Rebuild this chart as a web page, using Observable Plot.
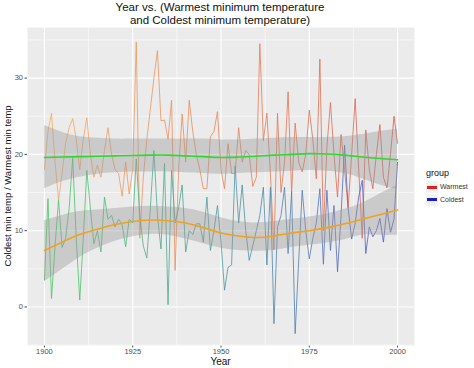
<!DOCTYPE html>
<html><head><meta charset="utf-8">
<script src="https://cdn.jsdelivr.net/npm/d3@7"></script>
<script src="https://cdn.jsdelivr.net/npm/@observablehq/plot@0.6"></script>
<style>
body{margin:0;background:#fff;font-family:"Liberation Sans",Arial,sans-serif;}
#wrap{position:relative;width:474px;height:368px;overflow:hidden;}
#wrap svg{position:absolute;left:0;top:0;}
.t{position:absolute;white-space:nowrap;color:#000;}
</style></head><body><div id="wrap"></div>
<script>
// ---- data ----
const years = d3.range(1900, 2001);
const warmest = [18,23,25.4,19,14,17.5,21.5,23.5,24.7,22,
  18,22,24.8,20,17,18.6,17,20.5,23.5,20,
  18,17.5,14.5,19,14.8,18,34.7,9,17,22,
  26,30,33.6,24.4,24.5,22,27.1,4.8,18,25.3,
  19,27.1,23,20,18,15.5,15.5,22.3,23,25.6,
  18,15.5,21.4,17.5,17.5,23.5,19,20.5,20,15.8,
  17,34.5,21.8,25.4,17.5,7.5,25.4,15,19,28.2,
  15,24.1,19,17.7,20,25.8,22,16.8,32.5,10,
  21,26.8,20,14.4,22.6,18,13,20,27.3,18,
  9,23.2,18,15.5,20,23.9,17,15.6,20,25,21.4];
const coldest = [3.5,14.2,1.1,8,14,7.8,9,13,19.5,9,
  0.9,9,17.9,13,8.3,10,7.2,14.4,11.5,12,
  10.5,11.5,10.8,7.9,11.5,11,19.4,12,8,6.4,
  13,20.5,12,7.6,18.8,0.3,17.9,11,13,16,
  7.2,10,9.5,10.9,10.9,8.5,14.4,7.4,10,13.3,
  8.5,2.2,5.2,5.5,18.5,11,16,10,6.1,8,
  10,12,15.7,5.5,15.7,-2.2,10.5,12,15.7,7,
  15.1,-3.5,6,15.3,10,6.3,9,11,15.5,5.6,
  15.3,7.4,13.3,4.6,12,21.2,13,8.9,11,14.4,
  16.6,7,10.5,9.2,10,11.6,8.5,12.9,9.8,11.5,19];
const smoothYears = [1900,1905,1910,1915,1920,1925,1930,1935,1940,1945,1950,1955,1960,1965,1970,1975,1980,1985,1990,1995,2000];
const warmFit = [19.6,19.65,19.7,19.75,19.8,19.85,19.9,19.9,19.8,19.7,19.6,19.65,19.75,19.9,20.0,20.1,20.05,19.9,19.65,19.45,19.3];
const warmLo  = [15.5,16.4,17.0,17.4,17.6,17.7,17.7,17.7,17.6,17.5,17.4,17.5,17.6,17.7,17.8,17.9,17.8,17.5,16.8,16.0,15.4];
const warmHi  = [23.8,22.9,22.3,22.1,22.0,22.0,22.0,22.0,22.0,22.0,21.9,21.9,22.0,22.1,22.2,22.2,22.2,22.3,22.6,23.0,23.3];
const coldFit = [7.4,8.5,9.5,10.2,10.8,11.2,11.4,11.3,11.0,10.4,9.7,9.3,9.1,9.3,9.7,10.0,10.4,10.9,11.5,12.1,12.7];
const coldLo  = [3.3,4.9,6.5,7.7,8.6,9.2,9.5,9.4,8.9,8.3,7.7,7.4,7.3,7.4,7.8,8.1,8.4,8.8,9.4,9.4,9.4];
const coldHi  = [11.3,12.0,12.5,12.7,12.9,13.1,13.2,13.1,12.9,12.4,11.7,11.2,11.0,11.2,11.5,11.8,12.2,12.8,13.6,14.8,16.0];
const groups = ["Warmest", "Coldest"];
const xTicks = [1900, 1925, 1950, 1975, 2000];
const yTicks = [0, 10, 20, 30];

// ---- styling ----
const warmColor = d3.interpolateLab("#f2ad62", "#d95a4e");
const coldColor = d3.piecewise(d3.interpolateLab, ["#43cc5e", "#4a9aa0", "#4a55c8"]);

const segs = [];
for (let i = 0; i < years.length - 1; i++) {
  const t = (i + 0.5) / (years.length - 1);
  segs.push({x1: years[i], x2: years[i+1], y1: warmest[i], y2: warmest[i+1], c: warmColor(t)});
  segs.push({x1: years[i], x2: years[i+1], y1: coldest[i], y2: coldest[i+1], c: coldColor(t)});
}
const smooth = smoothYears.map((y, i) => ({year: y, wf: warmFit[i], wl: warmLo[i], wh: warmHi[i], cf: coldFit[i], cl: coldLo[i], ch: coldHi[i]}));
const majorX = xTicks, minorX = [1912.5, 1937.5, 1962.5, 1987.5];
const majorY = yTicks, minorY = [-5, 5, 15, 25, 35];

const chart = Plot.plot({
  width: 474, height: 368,
  marginLeft: 27, marginRight: 60, marginTop: 27, marginBottom: 23,
  style: {fontFamily: "'Liberation Sans', Arial, sans-serif", fontSize: "7.5px", color: "#4d4d4d", background: "transparent"},
  x: {domain: [1895.2, 2004.8], ticks: xTicks, tickFormat: d => String(d), tickSize: 2.5, tickPadding: 1, label: null},
  y: {domain: [-5.05, 36.63], ticks: yTicks, tickFormat: d => String(d), tickSize: 2.5, tickPadding: 2, label: null},
  color: {type: "identity"},
  marks: [
    Plot.frame({fill: "#ebebeb", stroke: null}),
    Plot.ruleX(minorX, {stroke: "#fff", strokeWidth: 0.55}),
    Plot.ruleY(minorY, {stroke: "#fff", strokeWidth: 0.55}),
    Plot.ruleX(majorX, {stroke: "#fff", strokeWidth: 1.1}),
    Plot.ruleY(majorY, {stroke: "#fff", strokeWidth: 1.1}),
    Plot.link(segs, {x1: "x1", y1: "y1", x2: "x2", y2: "y2", stroke: "c", strokeWidth: 0.8}),
    Plot.areaY(smooth, {x: "year", y1: "wl", y2: "wh", fill: "#999999", fillOpacity: 0.4, curve: "natural"}),
    Plot.line(smooth, {x: "year", y: "wf", stroke: "#33d633", strokeWidth: 1.6, curve: "natural"}),
    Plot.areaY(smooth, {x: "year", y1: "cl", y2: "ch", fill: "#999999", fillOpacity: 0.4, curve: "natural"}),
    Plot.line(smooth, {x: "year", y: "cf", stroke: "#f0a21e", strokeWidth: 1.6, curve: "natural"})
  ]
});
const wrap = document.getElementById("wrap");
wrap.appendChild(chart);

function addText(txt, css) {
  const d = document.createElement("div");
  d.className = "t"; d.textContent = txt;
  Object.assign(d.style, css);
  wrap.appendChild(d);
  return d;
}
const title = document.createElement("div");
title.className = "t";
Object.assign(title.style, {left: "20px", width: "400px", top: "1px", textAlign: "center", fontSize: "11.5px", lineHeight: "12.5px", color: "#111"});
title.innerHTML = "Year vs. (Warmest minimum temperature<br>and Coldest minimum temperature)";
wrap.appendChild(title);
addText("Year", {left: "0px", width: "441px", textAlign: "center", top: "357px", fontSize: "10px", lineHeight: "10px", color: "#111"});
addText("Coldest min temp / Warmest min temp", {left: "8px", top: "186px", fontSize: "9.5px", lineHeight: "10px", color: "#111", transform: "translate(-50%,-50%) rotate(-90deg)"});
addText("group", {left: "426px", top: "168px", fontSize: "9px", lineHeight: "10px", color: "#111"});
groups.forEach((g, i) => {
  const y = 187 + i * 12.5;
  const sw = document.createElement("div");
  Object.assign(sw.style, {position: "absolute", left: "426px", top: (y - 6) + "px", width: "12px", height: "12px", background: "#f2f2f2"});
  const ln = document.createElement("div");
  Object.assign(ln.style, {position: "absolute", left: "1px", top: "4.5px", width: "10px", height: "3px", background: i === 0 ? "#e0201c" : "#1c1ccc"});
  sw.appendChild(ln);
  wrap.appendChild(sw);
  addText(g, {left: "440px", top: (y - 5) + "px", fontSize: "7px", lineHeight: "10px", color: "#333"});
});
</script>
</body></html>
